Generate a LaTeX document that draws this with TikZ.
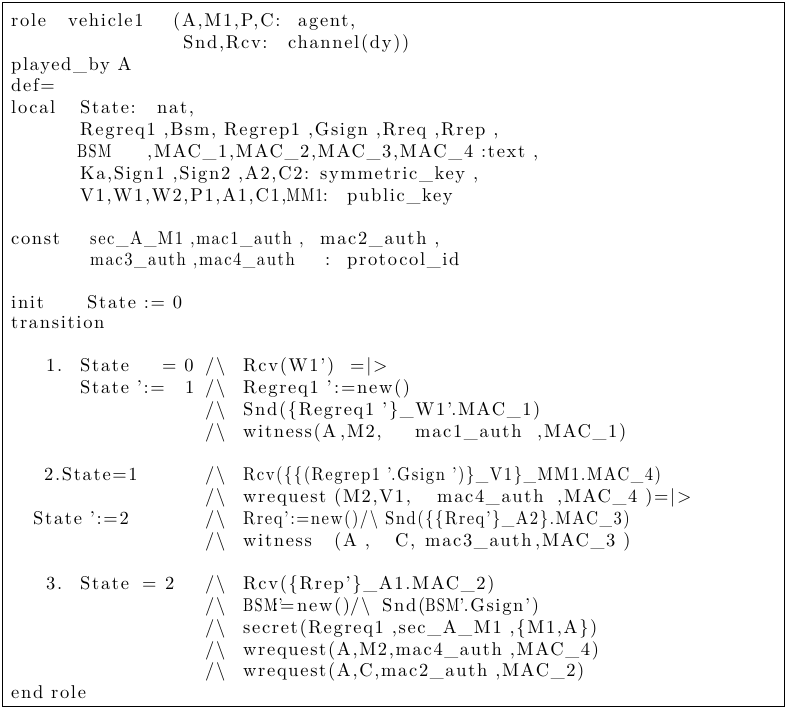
\documentclass[tikz,border=0pt]{standalone}
\usepackage{fontspec}
\setmainfont{lmroman10-regular.otf}[LetterSpace=9]
\newcounter{tn}
\newcommand\T[3]{\stepcounter{tn}\node[txt] (t\arabic{tn}) at (#1,#2) {#3};}
\newcommand\ws{/\textbackslash}
\newcommand\sq[1]{\scalebox{0.78}[1]{#1}}
\newcommand\nr[1]{\scalebox{0.9}[1]{#1}}
\begin{document}
\begin{tikzpicture}[x=1pt,y=-1pt,txt/.style={anchor=base west,inner sep=0pt,font=\fontsize{18.5}{20}\selectfont}]
\useasboundingbox (0,0) rectangle (785,707);
\node[draw,line width=1.4pt,minimum width=782pt,minimum height=704pt,anchor=north west,inner sep=0] (frame) at (1.5,1.5) {};
\T{11}{26}{role}\T{68}{26}{vehicle1}\T{173}{26}{(A,M1,P,C:}\T{298}{26}{agent,}
\T{183}{48}{Snd,Rcv:}\T{288}{48}{channel(dy))}
\T{11}{70}{played\_by A}
\T{11}{91}{def=}
\T{11}{113}{local}\T{80}{113}{State:}\T{157}{113}{nat,}
\T{80}{135}{Regreq1 ,Bsm, Regrep1 ,Gsign ,Rreq ,Rrep ,}
\T{77}{157}{\sq{BSM}}\T{147}{157}{,MAC\_1,MAC\_2,MAC\_3,MAC\_4 :text ,}
\T{80}{179}{Ka,Sign1 ,Sign2 ,A2,C2:}\T{320}{179}{symmetric\_key ,}
\T{80}{201}{V1,W1,W2,P1,A1,C1,\sq{MM1}:}\T{347}{201}{public\_key}
\T{11}{244}{const}\T{90}{244}{\nr{sec\_A\_M1 ,mac1\_auth ,}}\T{320}{244}{mac2\_auth ,}
\T{90}{265}{\nr{mac3\_auth ,mac4\_auth}}\T{325}{265}{:}\T{347}{265}{protocol\_id}
\T{11}{308}{init}\T{87}{308}{State := 0}
\T{11}{328}{transition}
%
\T{46}{371}{1.}\T{80}{371}{State}\T{162}{371}{= 0}\T{205}{371}{\ws}\T{243}{371}{Rcv(W1')}\T{350}{371}{=|>}
\T{80}{393}{State ':=}\T{185}{393}{1}\T{205}{393}{\ws}\T{243}{393}{Regreq1 '}\T{334}{393}{:=}\T{357}{393}{new()}
\T{205}{415}{\ws}\T{243}{415}{Snd(\{Regreq1 '\}\_W1'.MAC\_1)}
\T{205}{437}{\ws}\T{243}{437}{witness(A}\T{340}{437}{,M2,}\T{415}{437}{mac1\_auth}\T{537}{437}{,MAC\_1)}
%
\T{44}{480}{2.State=1}\T{205}{480}{\ws}\T{243}{480}{\nr{Rcv(\{\{(Regrep1 '.Gsign ')\}\_V1\}\_MM1.MAC\_4)}}
\T{205}{502}{\ws}\T{243}{502}{wrequest}\T{334}{502}{(M2,V1,}\T{437}{502}{mac4\_auth}\T{557}{502}{,MAC\_4 )=|>}
\T{33}{524}{State ':=2}\T{205}{524}{\ws}\T{243}{524}{\nr{Rreq':=new()\ws{} Snd(\{\{Rreq'\}\_A2\}.MAC\_3)}}
\T{205}{546}{\ws}\T{243}{546}{witness}\T{334}{546}{(A ,}\T{395}{546}{C,}\T{425}{546}{mac3\_auth}\T{535}{546}{,MAC\_3 )}
%
\T{46}{589}{3.}\T{80}{589}{State}\T{142}{589}{=}\T{165}{589}{2}\T{205}{589}{\ws}\T{243}{589}{Rcv(\{Rrep'\}\_A1.MAC\_2)}
\T{205}{611}{\ws}\T{243}{611}{\sq{BSM'}}\T{273}{611}{:=}\T{297}{611}{new()}\T{350}{611}{\ws}\T{382}{611}{Snd(\sq{BSM}'.Gsign')}
\T{205}{633}{\ws}\T{243}{633}{secret(Regreq1 ,sec\_A\_M1 ,\{M1,A\})}
\T{205}{655}{\ws}\T{243}{655}{wrequest(A,M2,mac4\_auth ,MAC\_4)}
\T{205}{676}{\ws}\T{243}{676}{wrequest(A,C,mac2\_auth ,MAC\_2)}
\T{11}{698}{end role}
\end{tikzpicture}
\end{document}
